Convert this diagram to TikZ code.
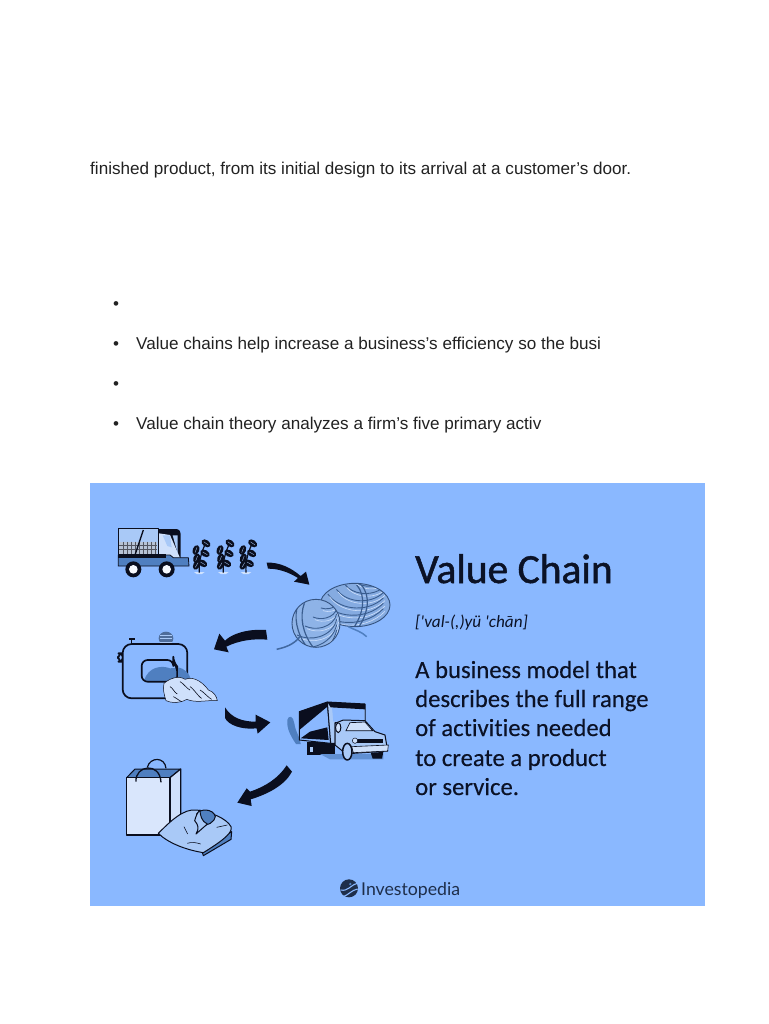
\documentclass[tikz,border=0pt]{standalone}
\usepackage{fontspec}
\setmainfont{Liberation Sans}
\newfontfamily\capt[FakeBold=1.2,Ligatures=NoCommon]{Carlito}
\newfontfamily\capn[FakeBold=0.25,Ligatures=NoCommon]{Carlito}
\newfontfamily\capi[Ligatures=NoCommon]{Carlito}
\newfontfamily\logo{Lato}
\definecolor{bgblue}{HTML}{8AB8FF}
\definecolor{ink}{HTML}{0A0E1E}
\definecolor{midb}{HTML}{4F7FC0}
\definecolor{softb}{HTML}{A9C9F7}
\definecolor{paleb}{HTML}{CFE0FB}
\definecolor{doc}{HTML}{222222}
\definecolor{titlec}{HTML}{0B1226}
\definecolor{logoc}{HTML}{1E2E4A}
\tikzset{
  doctext/.style={anchor=base west,inner sep=0pt,text=doc,font=\fontsize{17.1}{19}\selectfont},
  bullet/.style={anchor=base,inner sep=0pt,text=doc,font=\fontsize{17}{19}\selectfont},
  captext/.style={anchor=base west,inner sep=0pt,text=titlec},
  flowarrow/.style={fill=ink,draw=none},
  outl/.style={draw=ink,line width=1pt,line join=round},
  heavy/.style={draw=ink,line width=1.7pt,line join=round},
  yarnd/.style={draw=midb!70!ink,line width=.9pt},
  yarnl/.style={draw=paleb,line width=.6pt}
}
\newcommand{\plantat}[2]{%
  \begin{scope}[shift={(#1,#2)}]
    \fill[white!60!bgblue] (-16,46) -- (16,46) -- (8,52) -- (-8,52) -- cycle;
    \draw[ink,line width=1.2pt] (0,48) .. controls (-2,20) and (4,-10) .. (18,-38);
    \foreach \lx/\ly/\ang in {20/-40/-35,-10/-20/70,17/-10/-30,-8/5/70,10/20/-30,-8/25/60}{
      \fill[ink,rotate around={\ang:(\lx,\ly)}] (\lx,\ly) ellipse (15 and 10);
      \draw[softb,line width=.35pt,rotate around={\ang:(\lx,\ly)}] (\lx-8,\ly) -- (\lx+8,\ly);
    }
  \end{scope}}
\begin{document}
\begin{tikzpicture}[x=1pt,y=-1pt]
\useasboundingbox (0,0) rectangle (768,1024);
\fill[white] (0,0) rectangle (768,1024);
% document text
\node[doctext] (line1) at (90,175) {finished product, from its initial design to its arrival at a customer’s door.};
\node[bullet] (b1) at (116,309) {•};
\node[bullet] (b2) at (116,349) {•};
\node[bullet] (b3) at (116,389) {•};
\node[bullet] (b4) at (116,429) {•};
\node[doctext] (t2) at (136,349) {Value chains help increase a business’s efficiency so the busi};
\node[doctext] (t4) at (136,429) {Value chain theory analyzes a firm’s five primary activ};
% image panel
\fill[bgblue] (90,483) rectangle (705,906);
% captions
\node[captext,font=\capt\fontsize{41.5}{44}\selectfont] (title) at (415,583) {Value Chain};
\node[captext,font=\capi\itshape\fontsize{17.2}{20}\selectfont] (pron) at (415,627) {['val-(,)yü 'chān]};
\node[captext,font=\capn\fontsize{24.7}{28}\selectfont] (d1) at (415,678) {A business model that};
\node[captext,font=\capn\fontsize{24.7}{28}\selectfont] (d2) at (415,707) {describes the full range};
\node[captext,font=\capn\fontsize{24.7}{28}\selectfont] (d3) at (415,736) {of activities needed};
\node[captext,font=\capn\fontsize{24.7}{28}\selectfont] (d4) at (415,766) {to create a product};
\node[captext,font=\capn\fontsize{24.7}{28}\selectfont] (d5) at (415,795) {or service.};
\node[anchor=base west,inner sep=0pt,text=logoc,font=\logo\fontsize{17.7}{20}\selectfont] (brand) at (361,895) {Investopedia};
% upper art: zoom-1 coordinates
\begin{scope}[shift={(90,490)},scale=1/3]
  % tractor
  \fill[softb] (85,115) rectangle (205,195);
  \fill[paleb!70!gray] (88,155) rectangle (202,192);
  \foreach \gx in {100,112,...,196}{\draw[ink!70,line width=.35pt] (\gx,155) -- (\gx,192);}
  \foreach \gy in {165,178}{\draw[ink!70,line width=.35pt] (88,\gy) -- (202,\gy);}
  \draw[outl] (85,115) rectangle (205,195);
  \draw[ink,line width=1.3pt] (160,120) -- (135,195);
  \fill[ink] (205,117) -- (258,117) .. controls (268,117) and (272,125) .. (272,135) -- (272,215) -- (205,215) -- cycle;
  \fill[paleb] (207,130) -- (240,135) -- (278,222) -- (207,198) -- cycle;
  \fill[softb] (218,136) -- (240,136) -- (245,172) -- (232,168) -- cycle;
  \fill[softb] (248,136) -- (263,136) -- (263,190) -- cycle;
  \fill[midb,draw=ink,line width=.8pt] (85,195) -- (240,195) -- (250,203) -- (295,203) -- (297,228) -- (85,228) -- cycle;
  \fill[ink] (85,193) rectangle (228,205);
  \foreach \wx in {130,230}{
    \fill[ink] (\wx,238) circle (24);
    \fill[white!85!paleb] (\wx,238) circle (13);
  }
  % plants
  \plantat{328}{200}
  \plantat{400}{200}
  \plantat{468}{200}
  % arrows
  \path[flowarrow] (530,218) .. controls (570,216) and (605,235) .. (632,258) -- (648,245) -- (658,284) -- (612,275) -- (624,264) .. controls (595,246) and (565,236) .. (534,236) -- cycle;
  \path[flowarrow] (528,420) .. controls (470,416) and (425,432) .. (405,452) -- (388,431) -- (372,478) -- (416,487) -- (409,470) .. controls (445,452) and (490,445) .. (532,449) -- cycle;
  % yarn, rear ball
  \begin{scope}
    \path[clip] (795,345) ellipse (105 and 65);
    \fill[softb!60!midb] (795,345) ellipse (105 and 65);
    \foreach \r in {20,36,...,120}{
      \draw[yarnd] (880,\r+240) arc (40:150:\r+18 and \r);
      \draw[yarnl] (885,\r+248) arc (40:150:\r+18 and \r);
    }
    \foreach \s in {0,14}{\draw[yarnd,line width=1.2pt] (800+\s,285) .. controls (830+\s,320) and (820+\s,370) .. (790+\s,415);}
  \end{scope}
  \draw[midb!60!ink,line width=.9pt] (795,345) ellipse (105 and 65);
  \draw[midb,line width=1.5pt] (775,410) .. controls (795,420) and (815,425) .. (830,440);
  % yarn, front ball
  \begin{scope}
    \path[clip] (678,400) circle (72);
    \fill[softb!70!midb] (678,400) circle (72);
    \foreach \r in {20,36,...,120}{
      \draw[yarnd] (740,\r+320) arc (10:120:\r+12 and \r);
      \draw[yarnl] (746,\r+328) arc (10:120:\r+12 and \r);
    }
    \foreach \s in {0,18}{\draw[yarnd,line width=1.2pt] (625+\s,340) .. controls (610+\s,380) and (620+\s,430) .. (650+\s,470);}
  \end{scope}
  \draw[midb!60!ink,line width=.9pt] (678,400) circle (72);
  \draw[midb!80!ink,line width=1.5pt] (630,440) .. controls (610,465) and (585,472) .. (560,478);
  % sewing machine
  \fill[midb!70!ink!90] (228,445) ellipse (22 and 20);
  \foreach \sy in {435,445,455}{\draw[softb,line width=.3pt] (210,\sy) -- (246,\sy);}
  \draw[ink,line width=1.3pt] (125,445) -- (125,462);
  \fill[ink] (116,444) rectangle (134,450);
  \draw[heavy,fill=bgblue,rounded corners=5pt] (84,490) rectangle (100,515);
  \draw[heavy,fill=bgblue,rounded corners=9pt] (98,462) -- (292,462) -- (292,625) -- (98,625) -- cycle;
  \begin{scope}
    \path[clip] (155,510) -- (250,510) -- (250,518) -- (262,530) -- (262,575) -- (155,575) -- cycle;
    \fill[midb] (162,572) .. controls (175,530) and (215,525) .. (240,535) .. controls (270,530) and (295,545) .. (305,575) -- cycle;
  \end{scope}
  \draw[heavy,rounded corners=6pt] (155,510) -- (250,510) -- (250,518) -- (262,530) -- (262,575) -- (155,575) -- cycle;
  \fill[midb] (262,532) .. controls (285,535) and (297,550) .. (303,568) -- (262,568) -- cycle;
  \draw[ink,line width=1pt] (262,530) -- (262,570);
  % cloth
  \draw[ink,line width=.5pt,fill=paleb] (222,580) .. controls (240,565) and (265,555) .. (285,568) .. controls (315,555) and (345,585) .. (355,600) .. controls (372,605) and (380,620) .. (382,632) .. controls (345,630) and (320,640) .. (290,628) .. controls (270,640) and (245,640) .. (228,632) .. controls (222,612) and (218,598) .. (222,580) -- cycle;
  \foreach \a/\b/\c/\d in {240/590/262/612,270/575/300/600,300/590/335/625,250/620/275/635,330/600/365/628}{
    \draw[ink,line width=.6pt] (\a,\b) .. controls (\a+8,\b+3) and (\c-8,\d-3) .. (\c,\d);
  }
\end{scope}
% lower art: zoom-2 coordinates
\begin{scope}[shift={(90,690)},scale=1/3]
  % arrows
  \path[flowarrow] (405,52) .. controls (425,85) and (460,95) .. (497,95) -- (497,74) -- (541,97) -- (503,131) -- (500,115) .. controls (455,120) and (415,105) .. (405,84) -- cycle;
  \path[flowarrow] (590,226) .. controls (565,265) and (525,290) .. (480,305) -- (470,295) -- (442,338) -- (485,348) -- (482,328) .. controls (535,312) and (585,285) .. (606,245) -- cycle;
  % delivery truck
  \fill[midb] (592,90) .. controls (598,72) and (610,80) .. (613,100) .. controls (616,125) and (632,145) .. (632,162) -- (618,162) .. controls (600,135) and (590,115) .. (592,90) -- cycle;
  \fill[ink] (650,155) rectangle (735,195);
  \fill[midb!70!bgblue] (690,192) -- (880,192) -- (880,208) -- (720,208) -- cycle;
  \draw[outl,fill=bgblue] (628,65) -- (712,36) -- (722,160) -- (628,150) -- cycle;
  \fill[ink] (628,65) -- (712,36) -- (712,50) -- (628,120) -- cycle;
  \fill[ink] (632,145) -- (660,125) -- (712,112) -- (716,150) -- cycle;
  \draw[outl,fill=softb] (712,36) -- (825,42) -- (825,98) -- (735,98) -- (735,160) -- (722,160) -- cycle;
  \fill[bgblue] (726,52) -- (823,58) -- (823,95) -- (730,95) -- cycle;
  \fill[ink] (712,36) -- (825,42) -- (825,58) -- (722,52) -- cycle;
  \draw[outl,fill=softb] (735,100) -- (760,90) -- (825,92) -- (855,125) -- (885,135) -- (890,165) -- (893,183) -- (790,190) -- (760,185) -- (735,165) -- cycle;
  \fill[paleb,draw=ink,line width=.7pt] (768,122) -- (780,98) -- (825,96) -- (848,122) -- cycle;
  \draw[outl,fill=paleb] (745,98) .. controls (735,100) and (733,125) .. (745,128) .. controls (755,125) and (755,100) .. (745,98) -- cycle;
  \fill[ink] (802,147) rectangle (880,158);
  \fill[paleb,draw=ink,line width=.5pt] (795,152) circle (8);
  \fill[paleb,draw=ink,line width=.6pt] (785,170) -- (895,165) -- (893,183) -- (790,188) -- cycle;
  \fill[ink] (650,160) rectangle (682,195);
  \fill[softb] (660,172) rectangle (670,185);
  \draw[outl,fill=softb,line width=1.5pt] (772,185) ellipse (14 and 25);
  \fill[ink] (842,188) -- (880,186) -- (876,206) -- (848,206) -- cycle;
  % bag
  \draw[ink,line width=1.2pt] (172,232) .. controls (180,200) and (225,200) .. (228,235);
  \draw[outl,fill=midb] (110,263) -- (135,237) -- (272,237) -- (240,263) -- cycle;
  \draw[outl,line width=1.2pt,fill=paleb] (240,263) -- (272,237) -- (272,385) -- (240,400) -- cycle;
  \draw[outl,line width=1.2pt,fill=paleb!80!white] (110,263) rectangle (240,435);
  \draw[ink,line width=1.3pt] (138,275) .. controls (135,225) and (210,215) .. (213,277);
  % clothes
  \draw[outl,fill=midb] (335,480) -- (425,425) -- (423,448) -- (340,497) .. controls (338,490) and (336,485) .. (335,480) -- cycle;
  \draw[outl,fill=softb] (205,430) .. controls (240,395) and (280,355) .. (320,360) .. controls (360,365) and (410,385) .. (423,410) .. controls (428,425) and (410,445) .. (340,488) .. controls (290,480) and (235,460) .. (205,430) -- cycle;
  \draw[outl,fill=midb] (320,372) .. controls (330,355) and (370,355) .. (376,380) .. controls (375,395) and (350,410) .. (335,405) .. controls (325,400) and (318,385) .. (320,372) -- cycle;
  \draw[outl,fill=softb] (314,392) .. controls (318,375) and (325,365) .. (330,360) .. controls (330,375) and (335,395) .. (352,402) -- (318,432) .. controls (328,415) and (325,405) .. (314,392) -- cycle;
  \draw[ink,line width=.6pt] (282,410) -- (293,432);
  \draw[ink,line width=.6pt] (292,460) .. controls (305,455) and (320,458) .. (332,462);
  \draw[ink,line width=.6pt] (380,412) -- (412,405);
  % logo mark
  \fill[logoc] (777,595) circle (27);
  \draw[bgblue,line width=1.1pt] (752,600) .. controls (775,605) and (780,585) .. (803,580);
  \draw[bgblue,line width=1.1pt] (760,620) .. controls (775,615) and (785,600) .. (803,597);
  \fill[midb] (781,582) circle (4);
\end{scope}
\end{tikzpicture}
\end{document}
